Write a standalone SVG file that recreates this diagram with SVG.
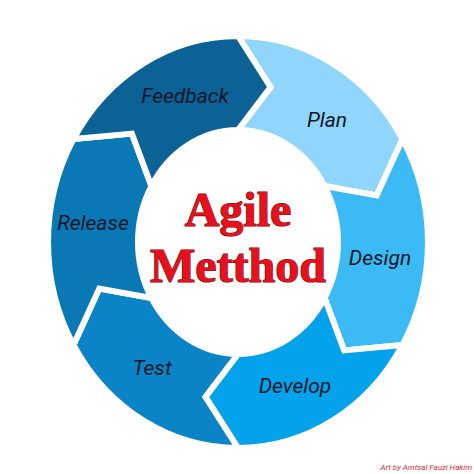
<svg xmlns="http://www.w3.org/2000/svg" width="474" height="474" viewBox="0 0 474 474">
<style>
.seg{stroke:#ffffff;stroke-width:6;stroke-linejoin:miter}
.lbl{font-family:Roboto,"Liberation Sans",sans-serif;font-style:italic;font-size:21px;fill:#0b1626;text-anchor:middle}
.title{font-family:"Liberation Serif","DejaVu Serif",serif;font-weight:bold;font-size:48px;fill:#e8101c;stroke:#6a0808;stroke-width:1.2;paint-order:stroke;text-anchor:middle}
.credit{font-family:Roboto,"Liberation Sans",sans-serif;font-style:italic;font-size:8px;fill:#d0303a;text-anchor:end}
</style>
<rect width="474" height="474" fill="#ffffff"/>
<g id="plan">
<path class="seg" fill="#90d5fc" d="M238,36 A190,206 0 0 1 402.5,139 L376.7,195.5 L324.6,186 A100,112 0 0 0 238,130 L270.6,87.1 Z"/>
<text class="lbl" x="327" y="127">Plan</text>
</g>
<g id="design">
<path class="seg" fill="#3cbaf5" d="M402.5,139 A190,206 0 0 1 402.5,345 L344.1,350.4 L324.6,298 A100,112 0 0 0 324.6,186 L376.7,195.5 Z"/>
<text class="lbl" x="380" y="265">Design</text>
</g>
<g id="develop">
<path class="seg" fill="#05a2ec" d="M402.5,345 A190,206 0 0 1 238,448 L205.4,396.9 L238,354 A100,112 0 0 0 324.6,298 L344.1,350.4 Z"/>
<text class="lbl" x="295" y="393">Develop</text>
</g>
<g id="test">
<path class="seg" fill="#0a84c6" d="M238,448 A190,206 0 0 1 73.5,345 L99.3,288.5 L151.4,298 A100,112 0 0 0 238,354 L205.4,396.9 Z"/>
<text class="lbl" x="152" y="375">Test</text>
</g>
<g id="release">
<path class="seg" fill="#0b78b6" d="M73.5,345 A190,206 0 0 1 73.5,139 L131.9,133.6 L151.4,186 A100,112 0 0 0 151.4,298 L99.3,288.5 Z"/>
<text class="lbl" x="93" y="230">Release</text>
</g>
<g id="feedback">
<path class="seg" fill="#0c6196" d="M73.5,139 A190,206 0 0 1 238,36 L270.6,87.1 L238,130 A100,112 0 0 0 151.4,186 L131.9,133.6 Z"/>
<text class="lbl" x="185" y="103">Feedback</text>
</g>
<g id="connectors"></g>
<g id="center">
<text class="title" x="238" y="226">Agile</text>
<text class="title" x="238" y="282">Metthod</text>
</g>
<text class="credit" x="472" y="470">Art by Amtsal Fauzi Hakim</text>
</svg>
